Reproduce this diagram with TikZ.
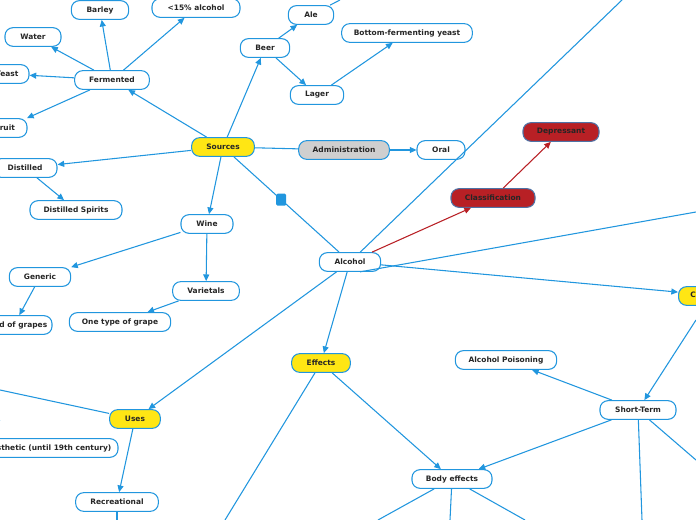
\documentclass[tikz,border=0pt]{standalone}
\usepackage{fontspec}
\setmainfont{DejaVu Sans}
\usetikzlibrary{arrows.meta}
\definecolor{ln}{HTML}{2196DE}
\definecolor{yl}{HTML}{FFE614}
\definecolor{rd}{HTML}{B82025}
\definecolor{gy}{HTML}{CFCFCF}
\begin{document}
\begin{tikzpicture}[x=0.75pt,y=-0.75pt,
 box/.style={draw=ln,line width=0.8pt,rounded corners=6pt,fill=white,minimum height=14pt,inner sep=0pt,font=\fontsize{5.6}{6}\selectfont\bfseries,text=black!85},
 yel/.style={box,fill=yl},
 red/.style={box,fill=rd,draw=ln!70!rd},
 gry/.style={box,fill=gy},
 ar/.style={draw=ln,line width=0.8pt,-{Triangle[width=4.5pt,length=5pt]}},
 li/.style={draw=ln,line width=0.8pt},
 rar/.style={draw=rd,line width=0.8pt,-{Triangle[width=4.5pt,length=5pt]}}]
\useasboundingbox (0,0) rectangle (696,520);
\node[yel,minimum width=47pt] (src) at (223,147) {Sources};
\node[box,minimum width=56pt] (fer) at (112,80) {Fermented};
\node[box,minimum width=43pt] (bar) at (100,10) {Barley};
\node[box,minimum width=66pt] (lt15) at (196,8) {<15\% alcohol};
\node[box,minimum width=42pt] (wat) at (33,37) {Water};
\node[box,minimum width=33pt] (yea) at (7,74) {Yeast};
\node[box,minimum width=33pt] (fru) at (5,128) {Fruit};
\node[box,minimum width=48pt] (dis) at (25,168) {Distilled};
\node[box,minimum width=69pt] (dsp) at (76,210) {Distilled Spirits};
\node[box,minimum width=37pt] (beer) at (265,48) {Beer};
\node[box,minimum width=34pt] (ale) at (311,15) {Ale};
\node[box,minimum width=98pt] (bfy) at (407,33) {Bottom-fermenting yeast};
\node[box,minimum width=40pt] (lag) at (317,95) {Lager};
\node[gry,minimum width=68pt] (adm) at (344,150) {Administration};
\node[box,minimum width=36pt] (oral) at (441,150) {Oral};
\node[red,minimum width=63pt] (cls) at (493,198) {Classification};
\node[red,minimum width=57pt] (dep) at (561,132) {Depressant};
\node[box,minimum width=46pt] (alc) at (350,262) {Alcohol};
\node[box,minimum width=39pt] (wine) at (207,224) {Wine};
\node[box,minimum width=46pt] (gen) at (40,277) {Generic};
\node[box,minimum width=57pt] (blend) at (14,325) {Blend of grapes};
\node[box,minimum width=50pt] (var) at (206,291) {Varietals};
\node[box,minimum width=76pt] (one) at (120,322) {One type of grape};
\node[yel,minimum width=44pt] (eff) at (321,363) {Effects};
\node[yel,minimum width=38pt] (uses) at (135,419) {Uses};
\node[box,minimum width=108pt] (ane) at (46,448) {Anesthetic (until 19th century)};
\node[box,minimum width=62pt] (rec) at (117,502) {Recreational};
\node[box,minimum width=60pt] (body) at (452,479) {Body effects};
\node[box,minimum width=76pt] (pois) at (506,360) {Alcohol Poisoning};
\node[box,minimum width=57pt] (st) at (638,410) {Short-Term};
\node[yel,minimum width=63pt,anchor=west] (cons) at (678,296) {Consequences};
\coordinate (c1) at (340,0); \coordinate (c2) at (622,0); \coordinate (c3) at (696,212);
\coordinate (c4) at (0,390); \coordinate (c5) at (0,420); \coordinate (c6) at (117,520);
\coordinate (c7) at (225,520); \coordinate (c8) at (378,520); \coordinate (c9) at (450,520);
\coordinate (c10) at (525,520); \coordinate (c11) at (642,520); \coordinate (c12) at (696,460);
\coordinate (c13) at (696,320);
\draw[ar] (src) -- (fer); \draw[ar] (src) -- (beer); \draw[ar] (src) -- (dis); \draw[ar] (src) -- (wine);
\draw[li] (src) -- (adm);
\draw[li] (src) -- (alc) coordinate[pos=0.45] (sq);
\fill[ln,rounded corners=1pt] ([shift={(-5,-6)}]sq) rectangle ([shift={(5,6)}]sq);
\draw[ar] (fer) -- (bar); \draw[ar] (fer) -- (lt15); \draw[ar] (fer) -- (wat);
\draw[ar] (fer) -- (yea); \draw[ar] (fer) -- (fru);
\draw[ar] (dis) -- (dsp);
\draw[ar] (beer) -- (ale); \draw[ar] (beer) -- (lag); \draw[li] (ale) -- (c1);
\draw[ar] (lag) -- (bfy);
\draw[ar] (adm) -- (oral);
\draw[li] (alc) -- (c2);
\draw[rar] (alc) -- (cls); \draw[rar] (cls) -- (dep);
\draw[li] (alc.south) ++(10,0) -- (c3);
\draw[ar] (alc) -- (cons);
\draw[ar] (wine) -- (gen); \draw[ar] (wine) -- (var);
\draw[ar] (gen) -- (blend); \draw[ar] (var) -- (one);
\draw[ar] (alc) -- (eff); \draw[ar] (alc) -- (uses);
\draw[li] (uses) -- (c4); \draw[ar] (c5) -- (ane.north west) ++(0,0);
\draw[ar] (uses) -- (rec); \draw[li] (rec) -- (c6);
\draw[li] (eff) -- (c7); \draw[ar] (eff) -- (body);
\draw[li] (body) -- (c8); \draw[li] (body) -- (c9); \draw[li] (body) -- (c10);
\draw[ar] (st) -- (pois); \draw[ar] (st) -- (body); \draw[ar] (c13) -- (st);
\draw[li] (st) -- (c11); \draw[li] (st) -- (c12);
\end{tikzpicture}
\end{document}
